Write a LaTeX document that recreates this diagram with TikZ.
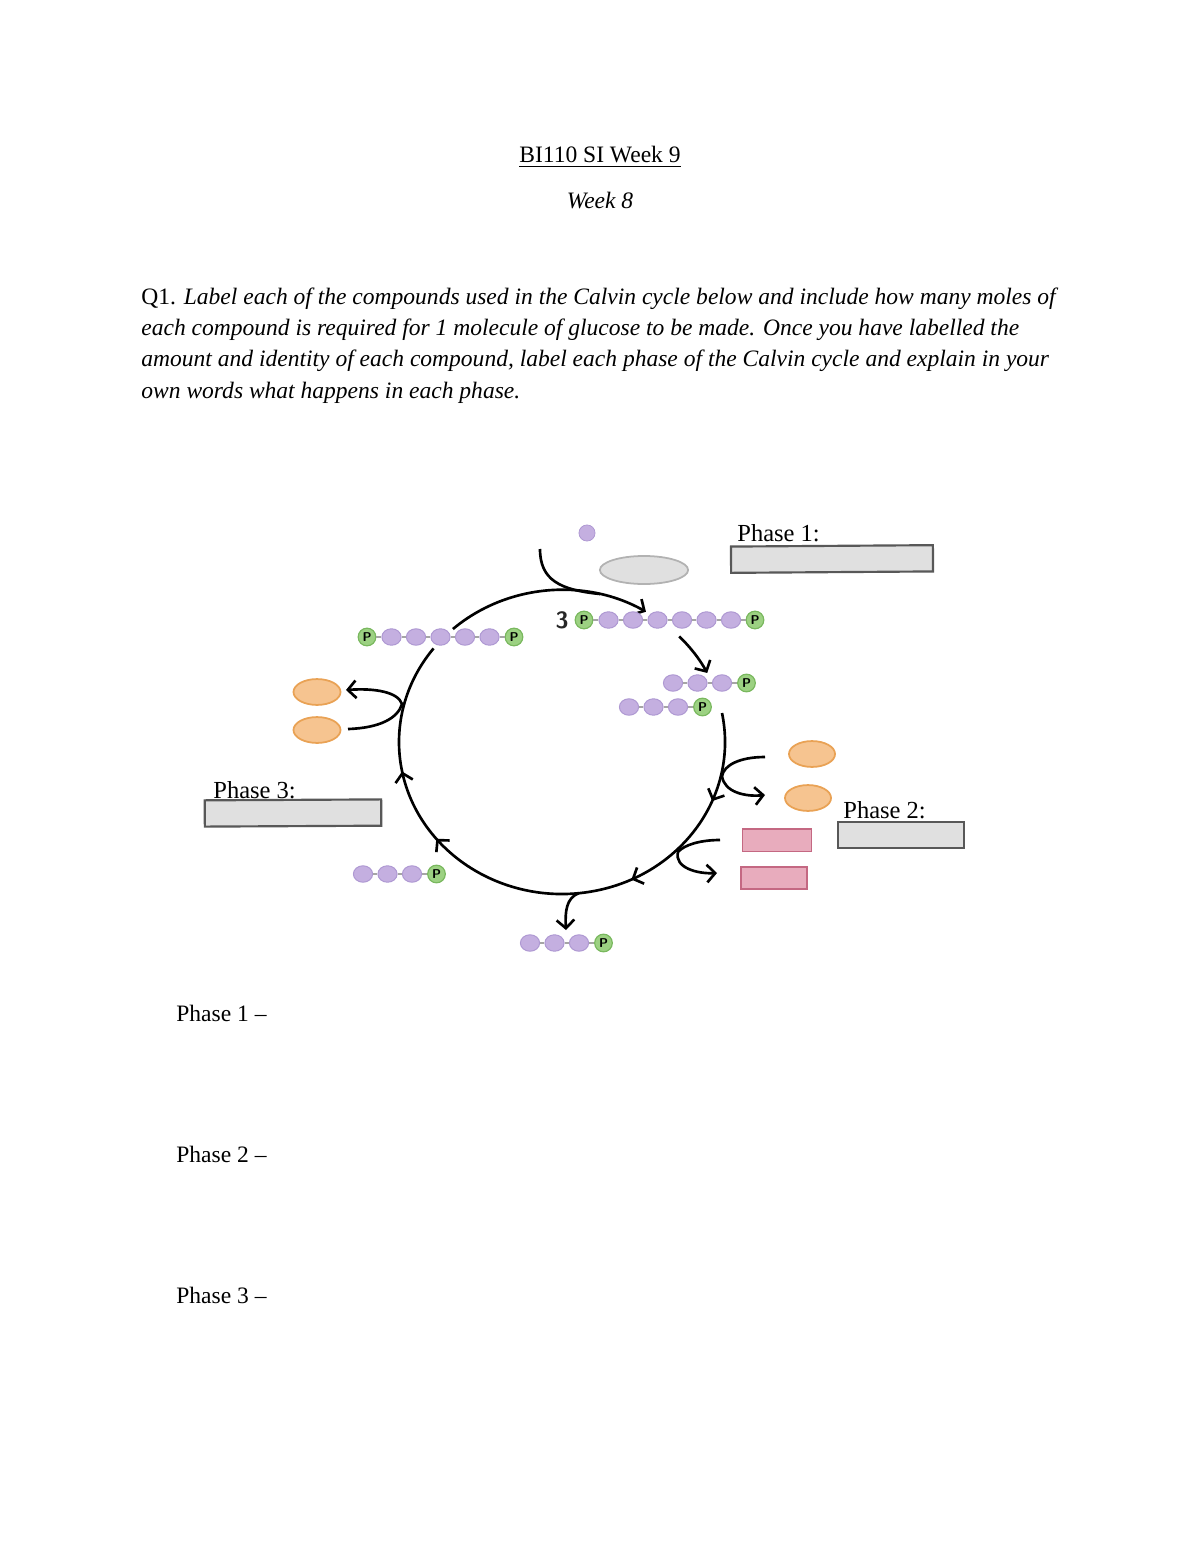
\documentclass[tikz,border=0pt]{standalone}
\usepackage{fontspec}
\setmainfont{Liberation Serif}
\usetikzlibrary{arrows.meta,calc,shapes.geometric,decorations.markings}

\definecolor{beadfill}{HTML}{C4AFE0}
\definecolor{beadline}{HTML}{AE98D2}
\definecolor{phosfill}{HTML}{9CD182}
\definecolor{phosline}{HTML}{79B85E}
\definecolor{bondgray}{HTML}{A5A5A5}
\definecolor{orangefill}{HTML}{F6C490}
\definecolor{orangeline}{HTML}{E9A255}
\definecolor{pinkfill}{HTML}{E8ACBD}
\definecolor{pinkline}{HTML}{C46882}
\definecolor{boxfill}{HTML}{E0E0E0}
\definecolor{boxline}{HTML}{585858}

\begin{document}
\begin{tikzpicture}[
  x=0.51pt, y=-0.51pt,
  >={Straight Barb[length=4.2pt,width=9pt]},
  every node/.style={inner sep=0pt},
  body/.style={font=\fontsize{12}{14}\selectfont, anchor=base west},
  plabel/.style={font=\fontsize{12.5}{14}\selectfont, anchor=base west},
  bead/.style={ellipse, draw=beadline, fill=beadfill, line width=0.5pt, minimum width=9.8pt, minimum height=8.4pt},
  phos/.style={circle, draw=phosline, fill=phosfill, line width=0.6pt, minimum size=9pt, font=\fontsize{6.5}{7}\sffamily\bfseries},
  bond/.style={-, line width=0.7pt, bondgray},
  energy/.style={ellipse, draw=orangeline, fill=orangefill, line width=0.9pt, minimum width=24pt, minimum height=13.2pt},
  carrier/.style={rectangle, draw=pinkline, fill=pinkfill, line width=0.8pt, minimum width=35pt, minimum height=11.5pt},
  ansbox/.style={rectangle, draw=boxline, fill=boxfill, line width=1.1pt, minimum height=13.4pt},
  cyc/.style={line width=1.35pt, black},
  flowmarks/.style={postaction={decorate}, decoration={markings,
      mark=at position 0.144 with {\arrow{>}},
      mark=at position 0.328 with {\arrow{>}},
      mark=at position 0.668 with {\arrow{>}},
      mark=at position 0.790 with {\arrow{>}}}},
]
\useasboundingbox (0,0) rectangle (1200,1553);

% Heading
\node[body, anchor=base] (title) at (600,163) {\underline{BI110 SI Week 9}};
\node[body, anchor=base] (week) at (600,209) {\itshape Week 8};

% Question
\node[body] (q1a) at (141,304) {Q1. \itshape Label each of the compounds used in the Calvin cycle below and include how many moles of};
\node[body] (q1b) at (141,335) {\itshape each compound is required for 1 molecule of glucose to be made. Once you have labelled the};
\node[body] (q1c) at (141,366) {\itshape amount and identity of each compound, label each phase of the Calvin cycle and explain in your};
\node[body] (q1d) at (141,398) {\itshape own words what happens in each phase.};

% Cycle
\coordinate (c) at (562,742);
\draw[cyc, ->] ($(c)+(228:163 and 152)$) arc[start angle=228, end angle=301, x radius=163, y radius=152];
\draw[cyc, ->] ($(c)+(316:163 and 152)$) arc[start angle=316, end angle=333, x radius=163, y radius=152];
\draw[cyc, flowmarks] ($(c)+(349:163 and 152)$) arc[start angle=349, end angle=578, x radius=163, y radius=152];

% Carbon input and enzyme
\node[circle, draw=beadline, fill=beadfill, minimum size=8.2pt] (carbon) at (587,533) {};
\node[ellipse, draw=black!30, fill=boxfill, line width=0.9pt, minimum width=45pt, minimum height=14.3pt] (enzyme) at (644,570) {};
\coordinate (co2) at (540,549);
\coordinate (j0) at (600,594);
\draw[cyc] (co2) .. controls (540,580) and (560,590) .. (j0);

% Six-carbon chain
\node[font=\fontsize{12}{12}\sffamily\bfseries, text=black!85] (three) at (562,620) {3};
\node[phos] (hx-0) at (584,620) {P};
\foreach \i in {1,...,6}
  \node[bead] (hx-\i) at ({584+24.5*\i},620) {};
\node[phos] (hx-7) at (755,620) {P};
\foreach \i [count=\j from 1] in {0,...,6}
  \draw[bond] (hx-\i) -- (hx-\j);

% Five-carbon chain
\node[phos] (rb-0) at (367,637) {P};
\foreach \i in {1,...,5}
  \node[bead] (rb-\i) at ({367+24.5*\i},637) {};
\node[phos] (rb-6) at (514,637) {P};
\foreach \i [count=\j from 1] in {0,...,5}
  \draw[bond] (rb-\i) -- (rb-\j);

% Three-carbon chains
\foreach \n/\x/\y in {ga/673/683, gb/629/707, gc/530/943, gd/363/874} {
  \foreach \i in {0,1,2}
    \node[bead] (\n-\i) at ({\x+24.5*\i},\y) {};
  \node[phos] (\n-3) at ({\x+73.5},\y) {P};
  \foreach \i [count=\j from 1] in {0,1,2}
    \draw[bond] (\n-\i) -- (\n-\j);
}

% Left energy branch
\node[energy] (le1) at (317,692) {};
\node[energy] (le2) at (317,730) {};
\coordinate (lin) at (348,729);
\coordinate (j1) at (402,704);
\coordinate (lout) at (346,690);
\draw[cyc, ->] (lin) .. controls (380,728) and (398,718) .. (j1) .. controls (398,692) and (375,688) .. (lout);

% Right energy branch
\node[energy, minimum width=23.5pt] (re1) at (812,754) {};
\node[energy, minimum width=23.5pt] (re2) at (808,798) {};
\coordinate (rin) at (765,757);
\coordinate (j2) at (722,776);
\coordinate (rout) at (765,795);
\draw[cyc, ->] (rin) .. controls (740,757) and (724,765) .. (j2) .. controls (724,792) and (745,797) .. (rout);

% Electron carrier branch
\node[carrier] (ca1) at (777,840) {};
\node[carrier, minimum width=33.7pt, minimum height=11.2pt] (ca2) at (774,878) {};
\coordinate (nin) at (720,840);
\coordinate (j3) at (678,852);
\coordinate (nout) at (717,873);
\draw[cyc, ->] (nin) .. controls (700,840) and (684,845) .. (j3) .. controls (674,868) and (698,874) .. (nout);

% Sugar output
\coordinate (gout) at (579,893);
\coordinate (gend) at (566,930);
\draw[cyc, ->] (gout) .. controls (566,898) and (565,912) .. (gend);

% Phase labels and answer boxes
\node[ansbox, minimum width=103pt, rotate=0.4] (box1) at (832,559) {};
\node[plabel] (ph1) at (737,541) {Phase 1:};
\node[ansbox, minimum width=64pt] (box2) at (901,835) {};
\node[plabel] (ph2) at (843,818) {Phase 2:};
\node[plabel] (ph3) at (213,798) {Phase 3:};
\node[ansbox, minimum width=90pt, rotate=0.3] (box3) at (293,813) {};

% Answer lines
\node[body] (a1) at (176,1021) {Phase 1 --};
\node[body] (a2) at (176,1162) {Phase 2 --};
\node[body] (a3) at (176,1303) {Phase 3 --};
\end{tikzpicture}
\end{document}
